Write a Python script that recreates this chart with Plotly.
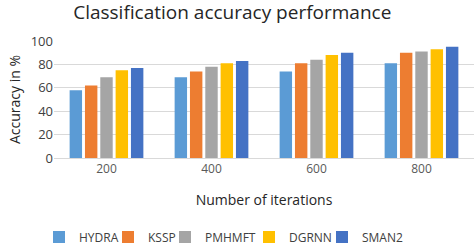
import plotly.graph_objects as go

categories = ["200", "400", "600", "800"]
series_names = ["HYDRA", "KSSP", "PMHMFT", "DGRNN", "SMAN2"]
hydra = [58, 69, 74, 81]
kssp = [62, 74, 81, 90]
pmhmft = [69, 78, 84, 91]
dgrnn = [75, 81, 88, 93]
sman2 = [77, 83, 90, 95]
y_ticks = [0, 20, 40, 60, 80, 100]

colors = ["#5B9BD5", "#ED7D31", "#A5A5A5", "#FFC000", "#4472C4"]
values = [hydra, kssp, pmhmft, dgrnn, sman2]
# legend text start positions in pixels (reference)
legend_text_x = [77, 146, 203, 287, 360]

font_family = "Open Sans, Liberation Sans, sans-serif"
W, H = 474, 247

fig = go.Figure()
legend_ids = ["legend", "legend2", "legend3", "legend4", "legend5"]
for name, vals, c, lid in zip(series_names, values, colors, legend_ids):
    fig.add_trace(go.Bar(name=name, x=categories, y=vals, legend=lid,
                         marker=dict(color=c, line=dict(width=0))))

layout_legends = {}
for lid, tx in zip(legend_ids, legend_text_x):
    layout_legends[lid] = dict(
        x=(tx - 38) / W, xref="container", xanchor="left",
        y=1 - 237 / H, yref="container", yanchor="middle",
        orientation="h", itemwidth=30, bgcolor="rgba(0,0,0,0)",
        font=dict(size=12, color="#404040", family=font_family),
    )

fig.update_layout(
    width=W, height=H,
    margin=dict(l=54, r=0, t=41, b=89, autoexpand=False),
    paper_bgcolor="white", plot_bgcolor="white",
    barmode="group", bargap=0.27, bargroupgap=0.19,
    font=dict(family=font_family, color="#595959", size=12),
    title=dict(text="Classification accuracy performance", x=0.49, xanchor="center",
               y=1 - 12 / H, yanchor="middle",
               font=dict(size=19, color="#262626", family=font_family)),
    xaxis=dict(type="category", showgrid=False, showline=True, linecolor="#D9D9D9",
               ticks="", tickfont=dict(size=12, color="#595959"),
               title=dict(text="Number of iterations", font=dict(size=14, color="#262626"), standoff=18)),
    yaxis=dict(range=[0, 100], tickvals=y_ticks, showgrid=True, gridcolor="#D9D9D9",
               zeroline=False, showline=False, ticks="",
               tickfont=dict(size=13, color="#404040"),
               title=dict(text="Accuracy in %", font=dict(size=14, color="#262626"), standoff=6)),
    showlegend=True,
    **layout_legends,
)

fig.write_html("out.html")
